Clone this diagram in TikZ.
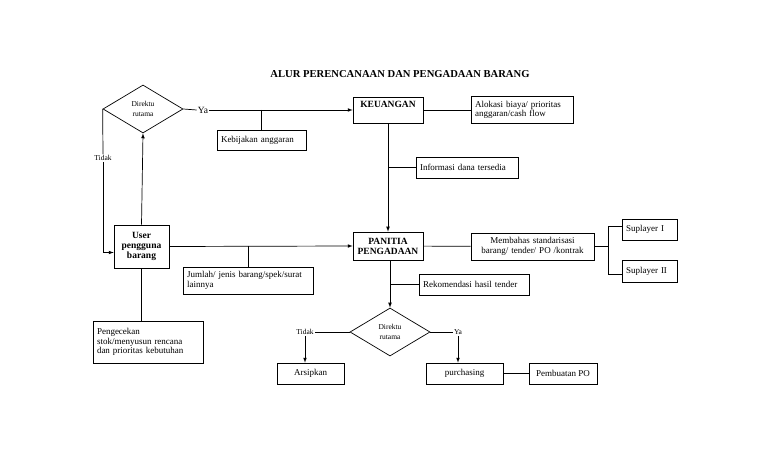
\documentclass[tikz,border=0pt]{standalone}
\usepackage{fontspec}
\setmainfont{Liberation Serif}
\usetikzlibrary{arrows,calc,shapes,positioning}

\begin{document}
\begin{tikzpicture}[>=latex, x=1pt, y=1pt, line width=0.7pt,
    box/.style={draw, line width=0.7pt, inner sep=2pt, font=\fontsize{9}{9.5}\selectfont},
    bbox/.style={box, font=\fontsize{9.5}{10}\selectfont\bfseries, align=center},
    dia/.style={draw, diamond, line width=0.7pt, inner sep=0pt, minimum width=80pt, minimum height=48pt, align=center, font=\fontsize{7.5}{10}\selectfont},
    lbl/.style={inner sep=1pt, font=\fontsize{7.5}{8}\selectfont}]
    \useasboundingbox (0,0) rectangle (768,466);
    \node at (400,392) [font=\fontsize{10.6}{12}\selectfont\bfseries](tit){ALUR PERENCANAAN DAN PENGADAAN BARANG};

    \node at (143,357) [dia](dir){Direktu\\rutama};
    \node at (388,356) [bbox, minimum width=70pt, text height=9pt, text depth=13pt](keu){KEUANGAN};
    \node at (keu) [box, xshift=134pt, minimum width=102pt, minimum height=27pt, text width=94pt, align=left](alo){Alokasi biaya/ prioritas\\anggaran/cash flow};
    \node at (261.5,326) [box, minimum width=89pt, minimum height=20pt, text width=81pt, align=left](keb){Kebijakan anggaran};
    \node at (467,298.5) [box, minimum width=102pt, minimum height=21pt, text width=94pt, align=left](inf){Informasi dana tersedia};
    \node at (keu) [bbox, yshift=-136pt, minimum width=70pt, minimum height=28pt](pan){PANITIA\\PENGADAAN};
    \node at (141.5,219.5) [bbox, minimum width=55pt, minimum height=43pt](usr){User\\pengguna\\barang};
    \node at (248,185.5) [box, minimum width=130pt, minimum height=27pt, text width=122pt, align=left](jum){Jumlah/ jenis barang/spek/surat\\lainnya};
    \node at (148,124) [box, minimum width=110pt, minimum height=42pt, text width=102pt, align=left](pen){Pengecekan\\stok/menyusun rencana\\dan prioritas kebutuhan};
    \node at (532.5,219.5) [box, minimum width=123pt, minimum height=27pt, text width=115pt, align=center](mem){Membahas standarisasi\\barang/ tender/ PO /kontrak};
    \node at (649.5,236.5) [box, minimum width=55pt, minimum height=21pt, text width=47pt, align=left](sp1){Suplayer I};
    \node at (649.5,195) [box, minimum width=55pt, minimum height=22pt, text width=47pt, align=left](sp2){Suplayer II};
    \node at (474,181.5) [box, minimum width=110pt, minimum height=21pt, text width=102pt, align=left](rek){Rekomendasi hasil tender};
    \node at (390,134) [dia](dir2){Direktu\\rutama};
    \node at (310.5,92.5) [box, minimum width=67pt, minimum height=21pt](ars){Arsipkan};
    \node at (464.5,92.5) [box, minimum width=77pt, minimum height=21pt](pur){purchasing};
    \node at (563,92.5) [box, minimum width=68pt, minimum height=21pt](pem){Pembuatan PO};

    \node at (203,356) [lbl, font=\fontsize{9.5}{10}\selectfont](ya1){Ya};
    \node at (103,308) [lbl](tdk1){Tidak};
    \node at (305,134) [lbl](tdk2){Tidak};
    \node at (458,134) [lbl](ya2){Ya};
    \coordinate (jsp) at ($(mem.east)+(14,0)$);
    \coordinate (jrk) at (dir2.north |- rek.west);

    %% Arrows
    \draw (dir.east) -- (ya1.west);
    \draw [->] (ya1.east) -- (keu.west);
    \draw (keb.north |- keu.west) -- (keb.north);
    \draw (keu) -- (alo);
    \draw [->] (keu.south) -- (pan.north);
    \draw (keu.south |- inf.west) -- (inf.west);
    \draw (dir.west) -- (tdk1.north);
    \draw [->] (tdk1.south) |- ([yshift=-6pt]usr.west);
    \draw [->] (usr.north) -- (dir.south);
    \draw [->] (usr.east) -- (pan.west);
    \draw (jum.north |- usr.east) -- (jum.north);
    \draw (usr.south) -- (usr.south |- pen.north);
    \draw (pan) -- (mem);
    \draw (mem.east) -- (jsp);
    \draw (jsp) |- ([yshift=3pt]sp1.west);
    \draw (jsp) |- ([yshift=-3pt]sp2.west);
    \draw [->] (pan.south -| dir2.north) -- (dir2.north);
    \draw (jrk) -- (rek.west);
    \draw (dir2.west) -- (tdk2.east);
    \draw [->] (tdk2.south) -- (tdk2.south |- ars.north);
    \draw (dir2.east) -- (ya2.west);
    \draw [->] (ya2.south) -- (ya2.south |- pur.north);
    \draw (pur) -- (pem);
\end{tikzpicture}
\end{document}
